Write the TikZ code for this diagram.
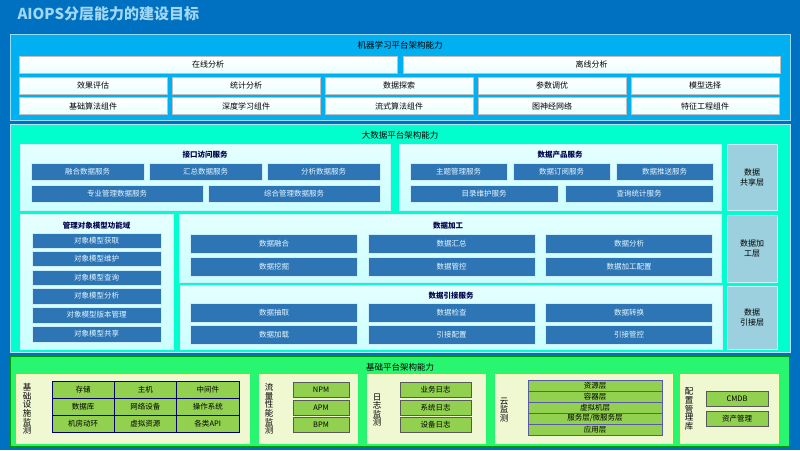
\documentclass[tikz,border=0pt]{standalone}
\usepackage{fontspec}
\setmainfont{Noto Sans CJK SC}
\begin{document}
\begin{tikzpicture}[x=1pt,y=-1pt,
  lb/.style={draw=#1,line width=0.6pt},
  ml/.style={draw=black!25,top color=white,bottom color=cyan!8,font=\fontsize{8}{9}\selectfont,inner sep=0},
  btn/.style={draw=cyan!20,fill=bluebtn,text=white!90!cyan,font=\fontsize{7.5}{8}\selectfont,inner sep=0},
  pan/.style={draw=white!80!cyan,top color=white!90!cyan,bottom color=white!80!cyan},
  side/.style={draw=white!80!cyan,fill=sidec,font=\fontsize{8}{10}\selectfont,align=center},
  ypan/.style={draw=white!70!yellow,fill=ypanc},
  gbtn/.style={draw=gray!70!black,fill=greenc,font=\fontsize{7.5}{8}\selectfont,inner sep=0},
  gcell/.style={draw=blue!40!black,fill=greenc,font=\fontsize{7.5}{8}\selectfont,inner sep=0},
  ttl/.style={font=\fontsize{8.5}{10}\selectfont},
  ptl/.style={font=\bfseries\fontsize{7.5}{9}\selectfont,text=blue!30!black},
  vt/.style={font=\fontsize{8.5}{8.6}\selectfont,align=center,inner sep=0}]
\definecolor{bg}{RGB}{0,112,192}
\definecolor{mlc}{RGB}{0,176,240}
\definecolor{bdc}{RGB}{0,255,204}
\definecolor{basec}{RGB}{40,245,112}
\definecolor{bluebtn}{RGB}{46,117,182}
\definecolor{sidec}{RGB}{157,208,222}
\definecolor{ypanc}{RGB}{240,248,210}
\definecolor{greenc}{RGB}{146,208,80}
\definecolor{titc}{RGB}{160,215,245}
\useasboundingbox (0,0) rectangle (800,450);
\fill[bg] (0,0) rectangle (800,450);
\node[anchor=west,text=titc,font=\bfseries\fontsize{15}{16}\selectfont] (title) at (14,14) {AIOPS分层能力的建设目标};
% ML
\draw[fill=mlc,draw=cyan!40] (10,34) rectangle (790,120);
\node[ttl] (mlt) at (400,45) {机器学习平台架构能力};
\node[ml,minimum width=378,minimum height=17] (on) at (208,64.5) {在线分析};
\node[ml,minimum width=377,minimum height=17] (off) at (591.5,64.5) {离线分析};
\foreach \t [count=\i] in {效果评估,统计分析,数据探索,参数调优,模型选择}
  \node[ml,minimum width=148,minimum height=17] (r2\i) at (19+74+153*\i-153,85.5) {\t};
\foreach \t [count=\i] in {基础算法组件,深度学习组件,流式算法组件,图神经网络,特征工程组件}
  \node[ml,minimum width=148,minimum height=17] (r3\i) at (19+74+153*\i-153,106) {\t};
% Big data
\draw[fill=bdc,draw=cyan!30] (10,124) rectangle (790,352);
\node[ttl] (bdt) at (400,135) {大数据平台架构能力};
\draw[pan] (20,144) rectangle (390,210);
\node[ptl] (p1) at (205,155) {接口访问服务};
\foreach \t/\a/\b in {融合数据服务/31/144,汇总数据服务/149/262,分析数据服务/267/380}
  \node[btn,minimum width=\b-\a,minimum height=17] (x\a) at ({(\a+\b)/2},171.5) {\t};
\foreach \t/\a/\b in {专业管理数据服务/31/203,综合管理数据服务/208/380}
  \node[btn,minimum width=\b-\a,minimum height=17] (y\a) at ({(\a+\b)/2},193.5) {\t};
\draw[pan] (399,144) rectangle (721,210);
\node[ptl] (p2) at (560,155) {数据产品服务};
\foreach \t/\a/\b in {主题管理服务/410/507,数据订阅服务/513/610,数据推送服务/616/713}
  \node[btn,minimum width=\b-\a,minimum height=17] (x\a) at ({(\a+\b)/2},171.5) {\t};
\foreach \t/\a/\b in {目录维护服务/410/558,查询统计服务/565/713}
  \node[btn,minimum width=\b-\a,minimum height=17] (y\a) at ({(\a+\b)/2},193.5) {\t};
\node[side,minimum width=50,minimum height=66] (s1) at (752,177) {数据\\共享层};
\node[side,minimum width=50,minimum height=67] (s2) at (752,248.5) {数据加\\工层};
\node[side,minimum width=50,minimum height=63] (s3) at (752,317.5) {数据\\引接层};
\draw[pan] (20,214) rectangle (173,349);
\node[ptl] (p3) at (96.5,226) {管理对象模型功能域};
\foreach \t/\y in {对象模型获取/240.5,对象模型维护/258.5,对象模型查询/277.5,对象模型分析/296,对象模型版本管理/315,对象模型共享/334}
  \node[btn,minimum width=129,minimum height=15.5] (m\y) at (96.5,\y) {\t};
\draw[pan] (179,214) rectangle (721,282);
\node[ptl] (p4) at (448,226) {数据加工};
\draw[pan] (180,285) rectangle (722,349);
\node[ptl] (p5) at (451,296) {数据引接服务};
\foreach \t/\c/\y in {数据融合/274/243.5,数据汇总/451.5/243.5,数据分析/629/243.5,数据挖掘/274/266.5,数据管控/451.5/266.5,数据加工配置/629/266.5,
  数据抽取/274/312.5,数据检查/451.5/312.5,数据转换/629/312.5,数据加载/274/334.5,引接配置/451.5/334.5,引接管控/629/334.5}
  \node[btn,minimum width=167,minimum height=19] (d\c\y) at (\c,\y) {\t};
% Base
\draw[fill=basec,draw=green!60!black] (10,356) rectangle (789,446);
\node[ttl] (bt) at (400,367) {基础平台架构能力};
\draw[ypan] (16,374) rectangle (249,443);
\node[vt] (v1) at (27,409) {基\\础\\设\\施\\监\\测};
\foreach \t [count=\i from 0] in {存储,主机,中间件,数据库,网络设备,操作系统,机房动环,虚拟资源,各类API}
  \node[gcell,minimum width=62.3,minimum height=17] (g\i) at ({52+31.15+62.3*mod(\i,3)},{381+8.5+17*int(\i/3)}) {\t};
\draw[ypan] (259,374) rectangle (357,443);
\node[vt] (v2) at (269,409) {流\\量\\性\\能\\监\\测};
\foreach \t/\y in {NPM/390,APM/407.5,BPM/424.5}
  \node[gbtn,minimum width=56,minimum height=15] (n\t) at (321,\y) {\t};
\draw[ypan] (367,374) rectangle (485,443);
\node[vt] (v3) at (377,410) {日\\志\\监\\测};
\foreach \t/\y in {业务日志/390,系统日志/407.5,设备日志/424.5}
  \node[gbtn,minimum width=71,minimum height=15] (l\y) at (435.5,\y) {\t};
\draw[ypan] (495,374) rectangle (672,443);
\node[vt] (v4) at (504,410) {云\\监\\测};
\foreach \t [count=\i from 0] in {资源层,容器层,虚拟机层,服务层/微服务层,应用层}
  \node[gbtn,draw=blue!30!gray,minimum width=134,minimum height=11,font=\fontsize{7.5}{8}\selectfont] (c\i) at (595,{385.5+11*\i}) {\t};
\draw[ypan] (680,374) rectangle (778,443);
\node[vt] (v5) at (689,409) {配\\置\\管\\理\\库};
\node[gbtn,minimum width=62,minimum height=15] (cm) at (737,398.5) {CMDB};
\node[gbtn,minimum width=62,minimum height=15] (zc) at (737,418.5) {资产管理};
\end{tikzpicture}
\end{document}
